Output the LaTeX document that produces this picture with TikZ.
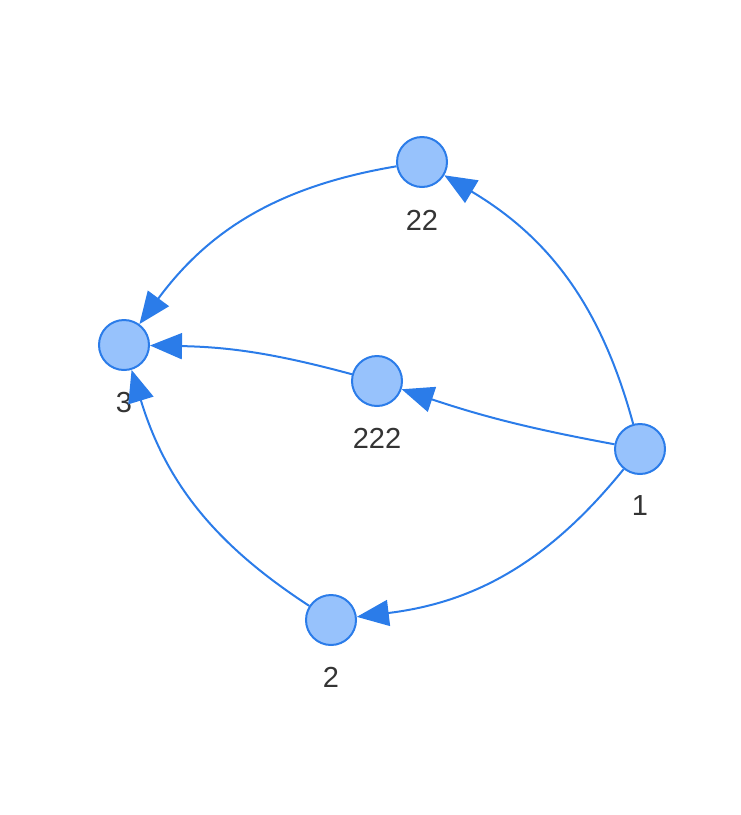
\documentclass[tikz,border=0pt]{standalone}
\usepackage{fontspec}
\setmainfont{Liberation Sans}
\usetikzlibrary{arrows.meta}
\definecolor{edgeblue}{HTML}{2B7CE9}
\definecolor{nodefill}{HTML}{97C2FC}
\definecolor{txt}{HTML}{343434}
\begin{document}
\begin{tikzpicture}[x=1pt,y=-1pt,
  vnode/.style={circle,draw=edgeblue,fill=nodefill,line width=2pt,minimum size=50pt,inner sep=0pt},
  lbl/.style={text=txt,font=\fontsize{29}{34}\selectfont,inner sep=0pt},
  edge/.style={draw=edgeblue,line width=2pt,-{Triangle[length=32pt,width=26pt]}}]
\path[use as bounding box] (0,0) rectangle (740,815);
\node[vnode] (n22) at (422,162) {};
\node[vnode] (n3) at (124,345) {};
\node[vnode] (n222) at (377,381) {};
\node[vnode] (n1) at (640,449) {};
\node[vnode] (n2) at (331,620) {};
\node[lbl] (l22) at (422,220) {22};
\node[lbl] (l3) at (124,403) {3};
\node[lbl] (l222) at (377,438) {222};
\node[lbl] (l1) at (640,506) {1};
\node[lbl] (l2) at (331,677) {2};
\draw[edge] (n1) to[bend right=22] (n22);
\draw[edge] (n22) to[bend right=22] (n3);
\draw[edge] (n222) to[bend right=7] (n3);
\draw[edge] (n1) to[bend left=4] (n222);
\draw[edge] (n1) to[bend left=22] (n2);
\draw[edge] (n2) to[bend left=20] (n3);
\end{tikzpicture}
\end{document}
